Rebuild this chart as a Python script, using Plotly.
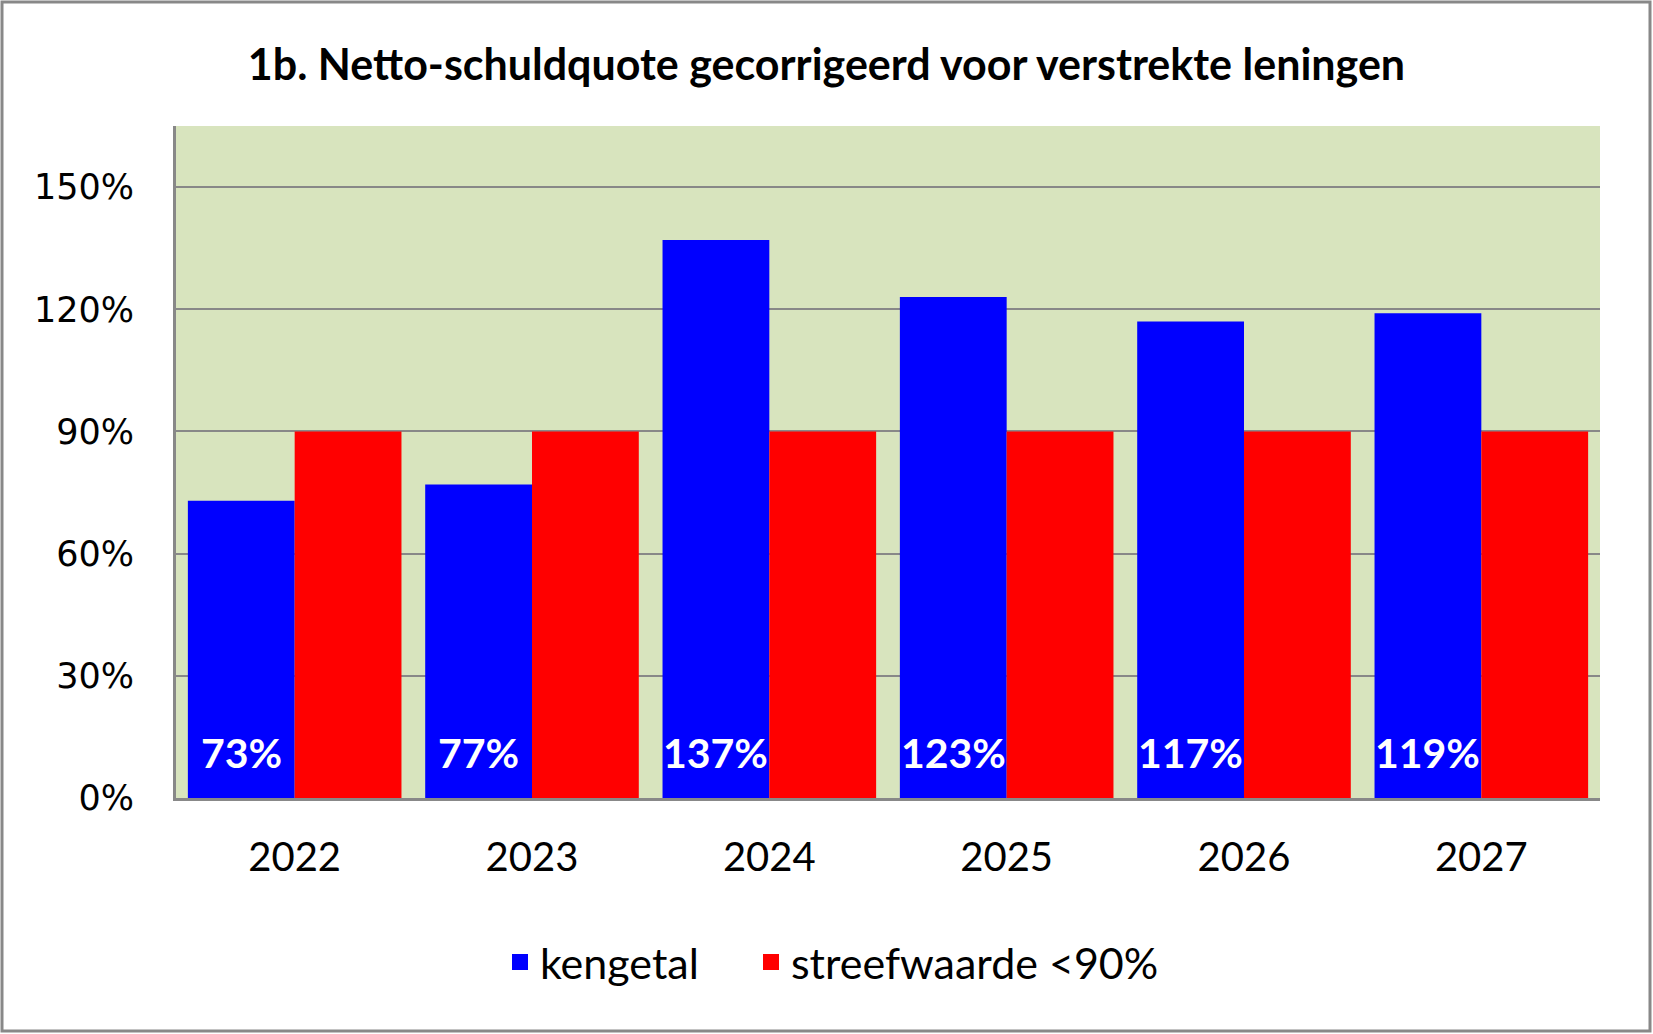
import plotly.graph_objects as go

# ---- data ------------------------------------------------------------------
years = ["2022", "2023", "2024", "2025", "2026", "2027"]
kengetal = [73, 77, 137, 123, 117, 119]
streefwaarde = [90, 90, 90, 90, 90, 90]
y_ticks = [0, 30, 60, 90, 120, 150]
y_labels = [f"{v}%" for v in y_ticks]

TITLE = "1b. Netto-schuldquote gecorrigeerd voor verstrekte leningen"
W, H = 1653, 1034
M = dict(l=176, r=53, t=126, b=236)
PW, PH = W - M["l"] - M["r"], H - M["t"] - M["b"]
BARGAP = 0.1
BAR_PX = PW / len(years) * (1 - BARGAP) / 2   # width of one bar in px

BLUE, RED, GREY = "#0000FF", "#FF0000", "#888888"
CAL = "Lato, Carlito, Calibri, sans-serif"
VER = "DejaVu Sans, Verdana, sans-serif"

fig = go.Figure()
fig.add_trace(go.Bar(x=years, y=kengetal, name="kengetal", marker_color=BLUE,
                     marker_line_width=0, showlegend=False, hoverinfo="skip"))
fig.add_trace(go.Bar(x=years, y=streefwaarde, name="streefwaarde <90%",
                     marker_color=RED, marker_line_width=0, showlegend=False,
                     hoverinfo="skip"))
# legend samples: bigger squares than the fixed bar legend icon
for name, col, lg in [("kengetal", BLUE, "legend"),
                      ("streefwaarde <90%", RED, "legend2")]:
    fig.add_trace(go.Scatter(x=[years[0]], y=[None], mode="markers", name=name,
                             legend=lg, hoverinfo="skip",
                             marker=dict(symbol="square", size=24, color=col)))

# value labels at the foot of the blue bars (x = category index)
for i, v in enumerate(kengetal):
    fig.add_annotation(x=i, y=0, text=f"<b>{v}%</b>", showarrow=False,
                       xshift=-BAR_PX / 2, yshift=46, yanchor="middle",
                       font=dict(family=CAL, size=41, color="white"))

# outer chart border (Excel chart area)
fig.add_shape(type="rect", xref="paper", yref="paper",
              x0=(2 - M["l"]) / PW, x1=(W - 3 - M["l"]) / PW,
              y0=-(M["b"] - 3) / PH, y1=(PH + M["t"] - 2) / PH,
              line=dict(color=GREY, width=3), layer="below")

LEG_Y = -(962 - (H - M["b"])) / PH
leg_style = dict(orientation="h", xanchor="left", y=LEG_Y, yanchor="middle",
                 font=dict(family=CAL, size=43, color="black"),
                 itemsizing="trace", bgcolor="rgba(0,0,0,0)")

fig.update_layout(
    width=W, height=H, margin=M,
    paper_bgcolor="white", plot_bgcolor="#D8E4BE",
    barmode="group", bargap=BARGAP, bargroupgap=0,
    title=dict(text=f"<b>{TITLE}</b>", x=0.5, xanchor="center",
               y=1 - 65 / H, yanchor="middle",
               font=dict(family=CAL, size=43, color="black")),
    xaxis=dict(type="category", range=[-0.5, len(years) - 0.5],
               showline=True, linecolor=GREY, linewidth=3, showgrid=False,
               tickfont=dict(family=CAL, size=40, color="black"),
               ticklabelstandoff=22),
    yaxis=dict(range=[0, 165], tickvals=y_ticks, ticktext=y_labels,
               showline=True, linecolor=GREY, linewidth=3,
               gridcolor=GREY, gridwidth=2, zeroline=False,
               tickfont=dict(family=VER, size=35, color="black"),
               ticklabelstandoff=32),
    legend=dict(x=(500 - M["l"]) / PW, **leg_style),
    legend2=dict(x=(751 - M["l"]) / PW, **leg_style),
    showlegend=True,
)

fig.write_html("out.html", config={"displayModeBar": False},
               post_script="document.body.style.margin = '0';")
